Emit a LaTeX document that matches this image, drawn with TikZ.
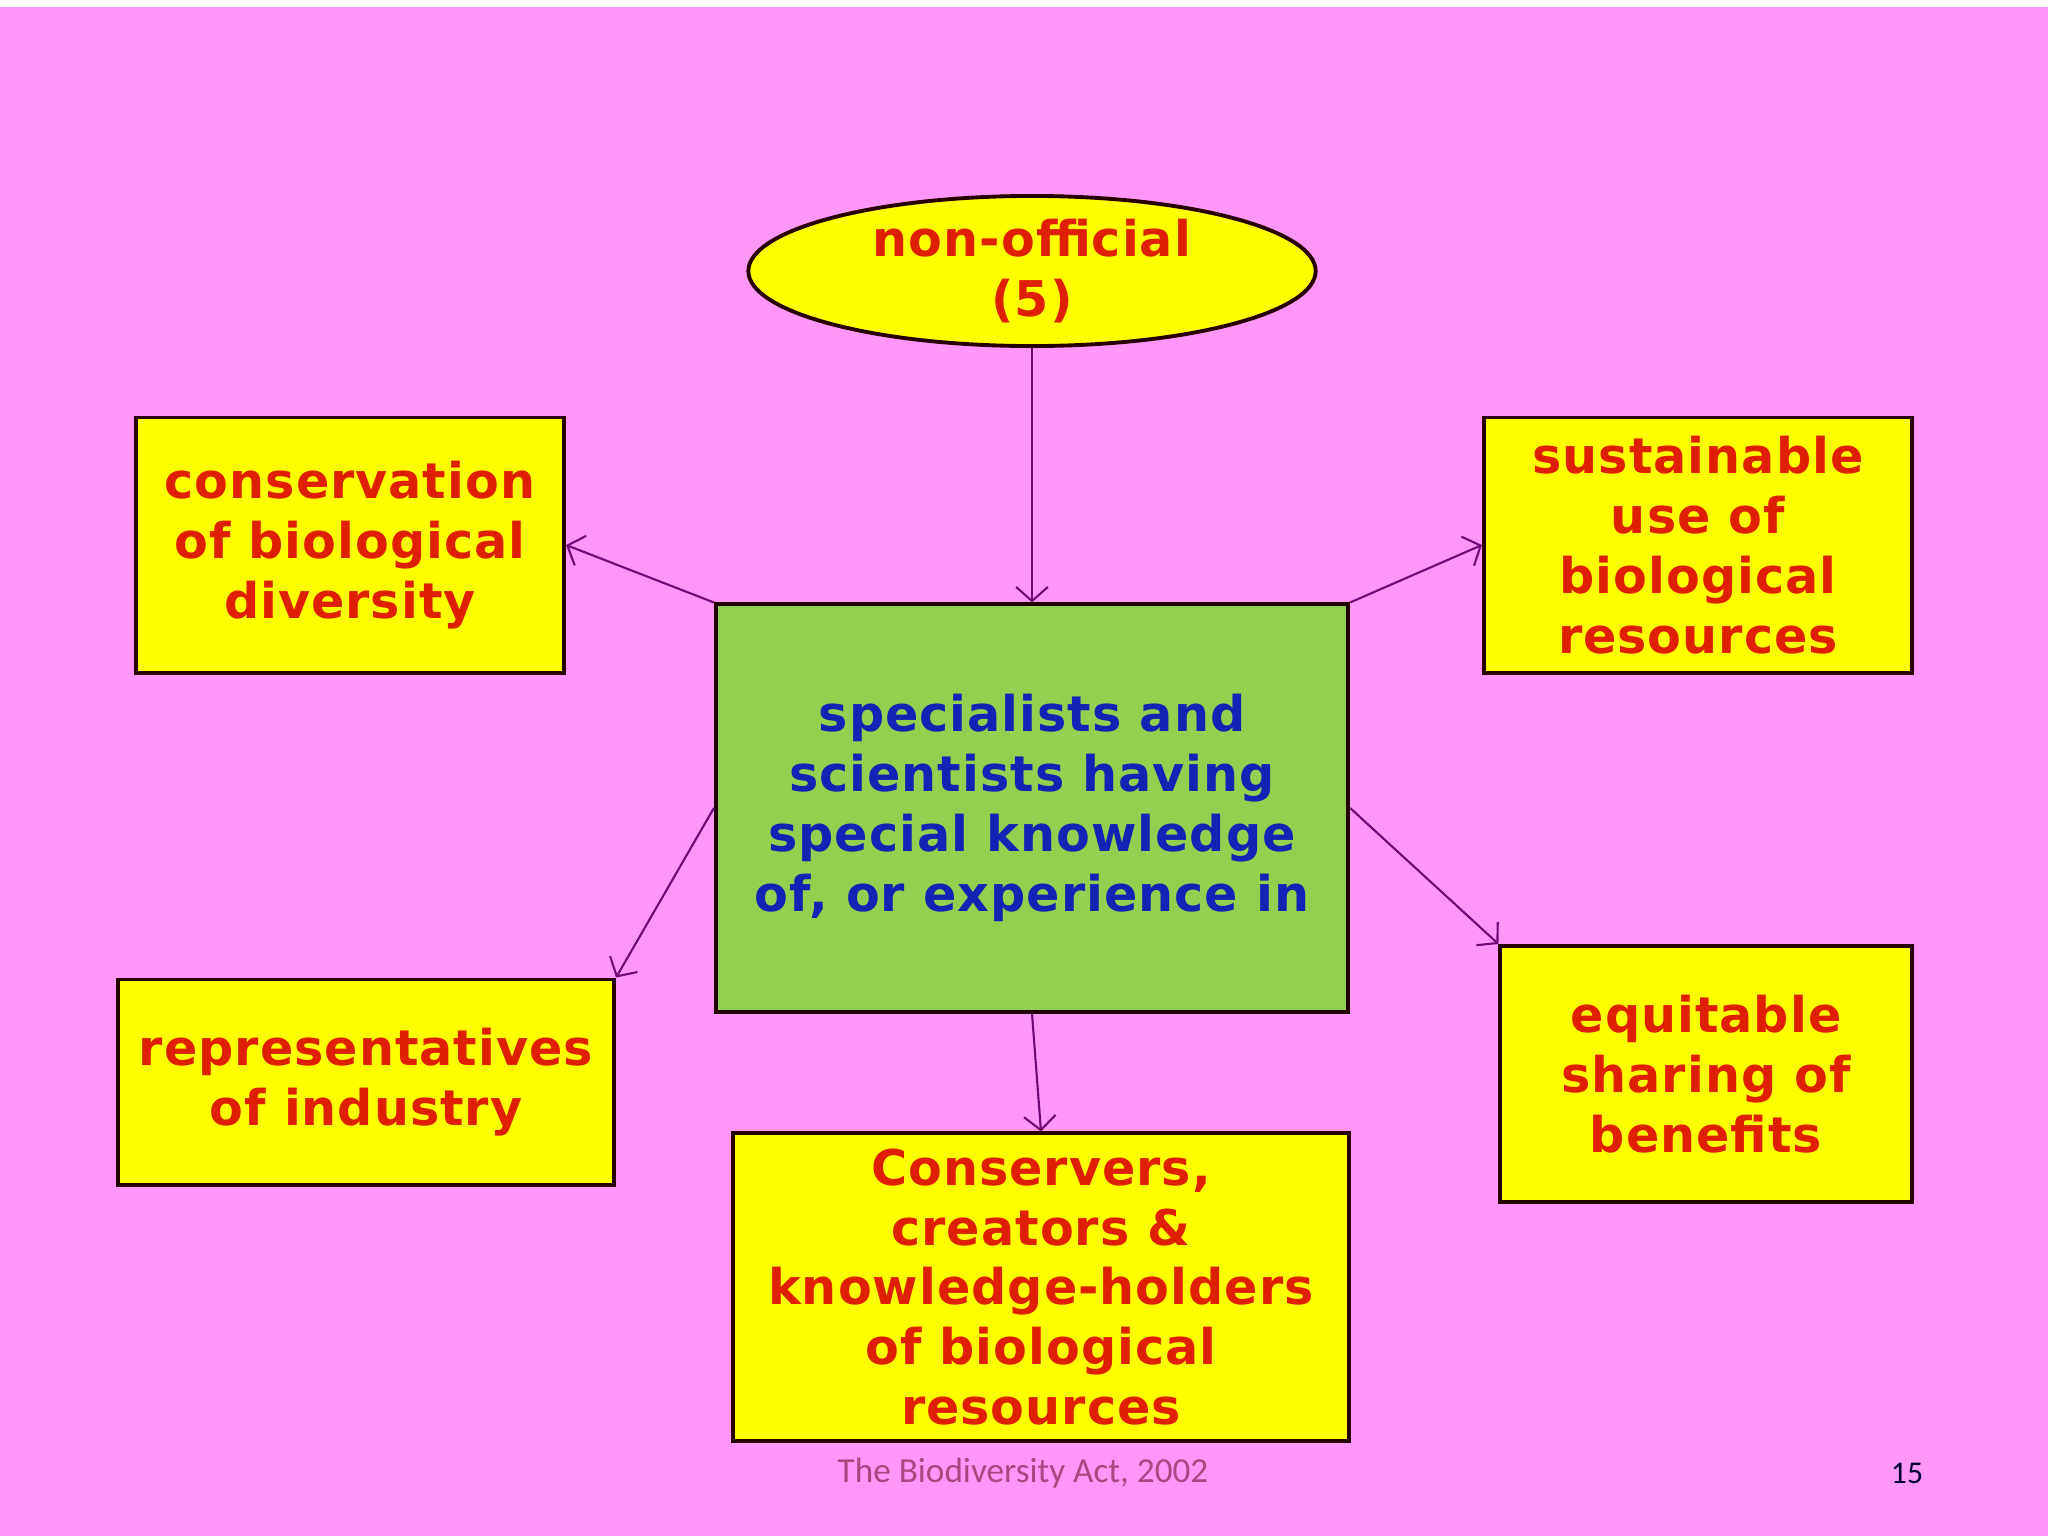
\documentclass[tikz,border=0pt]{standalone}
\usepackage{fontspec}
\setmainfont{DejaVu Sans}
\newfontfamily\boxfont[LetterSpace=2]{DejaVu Sans}
\newfontfamily\footfont{Carlito}
\usepackage{tikz}
\usetikzlibrary{shapes.geometric}
\usetikzlibrary{arrows.meta}
\definecolor{bpink}   {RGB}{255,150,250}
\definecolor{byellow} {RGB}{255,255,0}
\definecolor{bgreen}  {RGB}{146,208,80}
\definecolor{tred}    {RGB}{222,32,0}
\definecolor{tblue}   {RGB}{18,36,180}
\definecolor{apurple} {RGB}{110,10,120}
\definecolor{fmauve}  {RGB}{170,70,130}
\tikzset{
    topic/.style={draw=black!85!red, line width=1.1pt, fill=byellow, text=tred,
             font=\boxfont\bfseries\fontsize{14}{17}\selectfont, align=center, inner sep=0pt},
    core/.style={topic, fill=bgreen, text=tblue},
    link/.style={draw=apurple, line width=0.6pt, -{Straight Barb[length=4pt,width=9pt]}}
  }

\begin{document}
\begin{tikzpicture}[x=0.01cm, y=-0.01cm]
  % background
      \useasboundingbox (0,0) rectangle (2048,1536);
      \fill[white] (0,0) rectangle (2048,7);
      \fill[bpink] (0,7) rectangle (2048,1536);
  %Top ellipse
      \node[topic, ellipse, minimum width=5.67cm, minimum height=1.5cm] (nonoff) at (1032,271) {non-official\\(5)};
  %Centre box
      \node[core, minimum width=6.32cm, minimum height=4.07cm] (spec) at (1032,808) {specialists and\\scientists having\\special knowledge\\of, or experience in};
  %Upper left
      \node[topic, minimum width=4.28cm, minimum height=2.55cm] (consv) at (350,545) {conservation\\of biological\\diversity};
  %Upper right
      \node[topic, minimum width=4.28cm, minimum height=2.55cm] (sustain) at (1698,545) {sustainable\\use of\\biological\\resources};
  %Lower left
      \node[topic, minimum width=4.96cm, minimum height=2.05cm] (industry) at (366,1082) {representatives\\of industry};
  %Lower right
      \node[topic, minimum width=4.11cm, minimum height=2.56cm] (benefit) at (1706,1074) {equitable\\sharing of\\benefits};
  %Bottom
      \node[topic, minimum width=6.16cm, minimum height=3.07cm] (holders) at (1041,1287) {Conservers,\\creators \&\\knowledge-holders\\of biological\\resources};
  % arrows
      \draw[link] (nonoff.south) -- (spec.north);
      \draw[link] (spec.north west) -- (consv.east);
      \draw[link] (spec.north east) -- (sustain.west);
      \draw[link] (spec.west) -- (industry.north east);
      \draw[link] (spec.east) -- (benefit.north west);
      \draw[link] (spec.south) -- (holders.north);
  % footer
      \node[text=fmauve, font=\footfont\fontsize{10}{12}\selectfont] (act) at (1023,1473) {The Biodiversity Act, 2002};
      \node[text=black!80!blue, font=\footfont\fontsize{9}{11}\selectfont] (pgno) at (1907,1473) {15};
\end{tikzpicture}
\end{document}
